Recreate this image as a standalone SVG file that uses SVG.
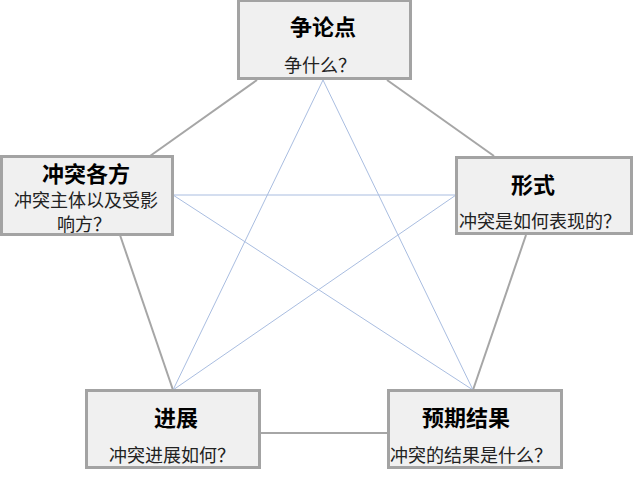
<svg xmlns="http://www.w3.org/2000/svg" width="640" height="478" viewBox="0 0 640 478">
<style>
.box{fill:#f0f0f0;stroke:#a3a3a3;stroke-width:3}
.edge{stroke:#a6a6a6;stroke-width:2;fill:none}
.star{stroke:#a9bde0;stroke-width:1;fill:none}
.t{font-family:"Noto Sans CJK SC","Noto Sans",sans-serif;font-weight:bold;font-size:22px;fill:#000;text-anchor:middle}
.s{font-family:"Noto Sans CJK SC","Noto Sans",sans-serif;font-size:18px;fill:#222;text-anchor:middle}
</style>
<rect width="640" height="478" fill="#fff"/>
<g id="connectors">
<line class="edge" x1="257" y1="80" x2="150" y2="156"/>
<line class="edge" x1="387" y1="80" x2="494" y2="156"/>
<line class="edge" x1="120" y1="235" x2="173" y2="390"/>
<line class="edge" x1="526" y1="235" x2="473" y2="390"/>
<line class="edge" x1="260" y1="433" x2="388" y2="433"/>
<line class="star" x1="323" y1="80" x2="173" y2="390"/>
<line class="star" x1="323" y1="80" x2="473" y2="390"/>
<line class="star" x1="173" y1="195" x2="456" y2="195"/>
<line class="star" x1="173" y1="195" x2="473" y2="390"/>
<line class="star" x1="456" y1="195" x2="173" y2="390"/>
</g>
<g id="n1">
<rect class="box" x="238.500" y="0.500" width="172" height="78"/>
<text class="t" x="323" y="35">争论点</text>
<text class="s" x="320" y="72">争什么？</text>
</g>
<g id="n2">
<rect class="box" x="1.500" y="156.500" width="171" height="78"/>
<text class="t" x="86" y="182">冲突各方</text>
<text class="s" x="86" y="207">冲突主体以及受影</text>
<text class="s" x="84" y="231">响方？</text>
</g>
<g id="n3">
<rect class="box" x="456.500" y="157.500" width="175" height="76"/>
<text class="t" x="533" y="193">形式</text>
<text class="s" x="540" y="228">冲突是如何表现的？</text>
</g>
<g id="n4">
<rect class="box" x="86.500" y="390.500" width="173" height="77"/>
<text class="t" x="176" y="426">进展</text>
<text class="s" x="172" y="462">冲突进展如何？</text>
</g>
<g id="n5">
<rect class="box" x="388.500" y="390.500" width="173" height="77"/>
<text class="t" x="466" y="426">预期结果</text>
<text class="s" x="471" y="462">冲突的结果是什么？</text>
</g>
</svg>
